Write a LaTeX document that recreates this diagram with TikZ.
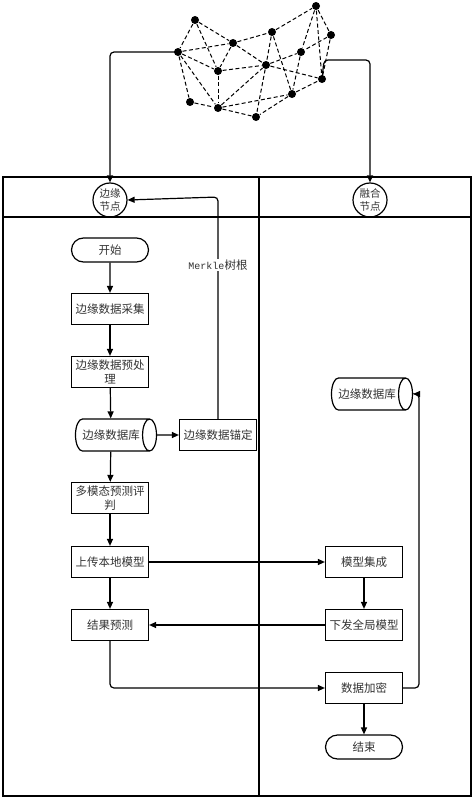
\documentclass[tikz,border=0pt]{standalone}
\usepackage{fontspec}
\setmainfont{Noto Sans CJK SC}
\newfontfamily\mono{Liberation Mono}
\usetikzlibrary{arrows.meta,shapes.geometric,shapes.misc}
\begin{document}
\begin{tikzpicture}[x=1pt,y=-1pt,
  line width=1.2pt,
  txt/.style={font=\fontsize{11.5pt}{14pt}\selectfont, text=black!80},
  stepbox/.style={txt, draw, rectangle, minimum width=77pt, minimum height=31pt, inner sep=1pt, align=center},
  termbox/.style={txt, draw, rounded rectangle, minimum width=79pt, minimum height=24pt, inner sep=1pt},
  dbbox/.style={txt, draw, cylinder, shape aspect=1.1, minimum width=32pt, minimum height=81pt, inner sep=1pt},
  lanenode/.style={txt, draw, circle, minimum size=34pt, inner sep=0pt, align=center, font=\fontsize{10.5pt}{12.5pt}\selectfont},
  dot/.style={circle, fill=black, minimum size=8pt, inner sep=0pt},
  net/.style={line width=1pt, dash pattern=on 4pt off 2.5pt},
  arr/.style={-{Triangle[length=7pt,width=6pt]}, rounded corners=4pt}
]
\useasboundingbox (0,0) rectangle (474,800);
% lanes
\draw (3,177) rectangle (471,796);
\draw (3,217) -- (471,217);
\draw (259,177) -- (259,796);
% network
\node[dot] (A) at (195,20) {};
\node[dot] (B) at (316,6) {};
\node[dot] (C) at (331,35) {};
\node[dot] (D) at (272,32) {};
\node[dot] (E) at (233,43) {};
\node[dot] (F) at (178,52) {};
\node[dot] (G) at (301,52) {};
\node[dot] (H) at (266,65) {};
\node[dot] (I) at (218,71) {};
\node[dot] (J) at (322,79) {};
\node[dot] (K) at (292,94) {};
\node[dot] (L) at (190,102) {};
\node[dot] (M) at (218,108) {};
\node[dot] (N) at (256,117) {};
\foreach \a/\b in {A/F,A/E,A/I,F/E,F/I,F/L,F/M,E/I,E/H,E/D,I/H,I/M,L/M,M/H,M/N,M/K,D/H,D/B,D/K,H/N,H/G,H/J,B/C,B/G,B/J,C/G,C/J,G/K,K/J,K/N}
  \draw[net] (\a) -- (\b);
% lane nodes
\node[lanenode] (edge) at (110,200) {边缘\\节点};
\node[lanenode] (fuse) at (370,200) {融合\\节点};
\draw[arr] (F.center) -- (110,52) -- (edge.north);
\draw[arr] (J.center) -- (324,60) -- (370,60) -- (fuse.north);
% left flow
\node[termbox] (start) at (110,250) {开始};
\node[stepbox] (collect) at (110,309) {边缘数据采集};
\node[stepbox] (pre) at (110,372) {边缘数据预处\\理};
\node[dbbox] (db) at (111,435) {边缘数据库};
\node[stepbox] (anchor) at (218,435) {边缘数据锚定};
\node[stepbox] (judge) at (110,498) {多模态预测评\\判};
\node[stepbox] (upload) at (110,562) {上传本地模型};
\node[stepbox] (predict) at (110,625) {结果预测};
% right flow
\node[dbbox] (db2) at (367,394) {边缘数据库};
\node[stepbox] (integ) at (364,562) {模型集成};
\node[stepbox] (dist) at (364,625) {下发全局模型};
\node[stepbox] (enc) at (364,688) {数据加密};
\node[termbox] (finish) at (364,747) {结束};
% connectors
\draw[arr] (start) -- (collect);
\draw[arr] (collect) -- (pre);
\draw[arr] (pre) -- (db);
\draw[arr] (db) -- (judge);
\draw[arr] (judge) -- (upload);
\draw[arr] (upload) -- (predict);
\draw[arr] (db) -- (anchor);
\draw[arr] (anchor.north) -- (218,197) -- (edge.east);
\node[txt, fill=white, inner sep=1pt] (merkle) at (218,265) {{\mono\fontsize{10pt}{11pt}\selectfont Merkle}树根};
\draw[arr] (upload) -- (integ);
\draw[arr] (integ) -- (dist);
\draw[arr] (dist) -- (predict);
\draw[arr] (predict.south) -- (110,688) -- (enc.west);
\draw[arr] (enc.east) -- (419,688) -- (419,394) -- (db2.east);
\draw[arr] (enc) -- (finish);
\end{tikzpicture}
\end{document}
